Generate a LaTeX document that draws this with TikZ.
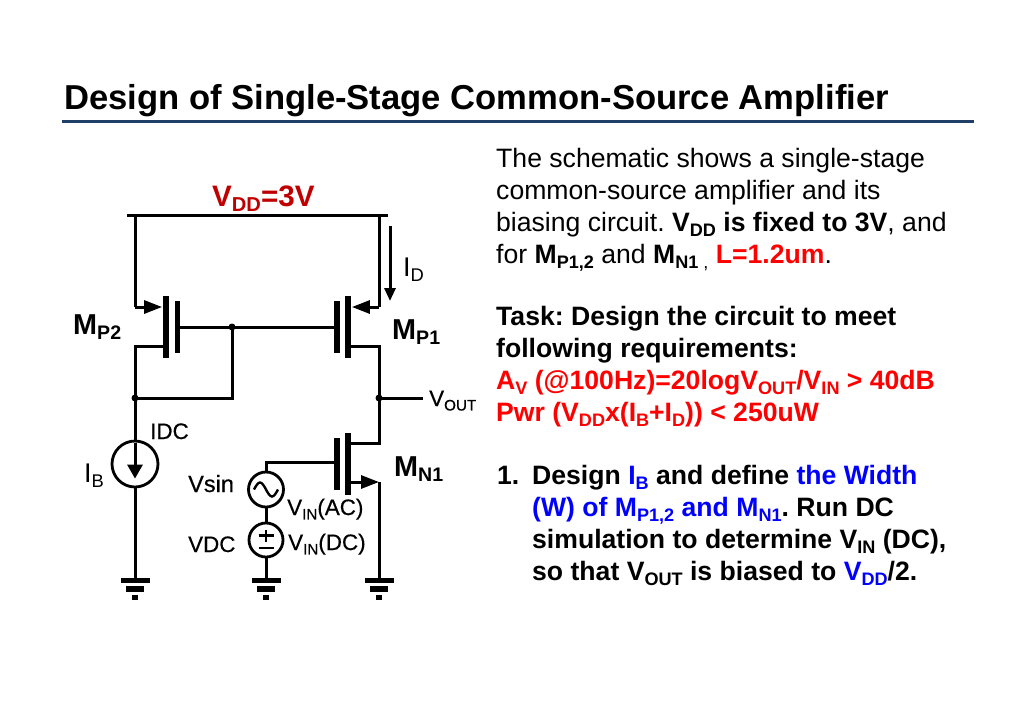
\documentclass[tikz,border=0pt]{standalone}
\usepackage{fontspec}
\setmainfont{Liberation Sans}
\newfontfamily\medfont[FakeBold=0.5]{Liberation Sans}
\usetikzlibrary{arrows.meta}
\definecolor{rulebl}{HTML}{1F3F66}
\definecolor{vddred}{HTML}{C00000}
\newcommand{\lowtxt}[1]{\raisebox{-.2em}{\scalebox{.68}{#1}}}
\newcommand{\fs}[1]{\fontsize{#1}{#1}\selectfont}
\frenchspacing
\begin{document}
\begin{tikzpicture}[
        x=1pt, y=-1pt,
        wire/.style={draw, line width=3pt},
        rail/.style={draw, line width=3.6pt},
        chanbar/.style={fill=black, inner sep=0pt, minimum width=5.4pt, minimum height=62pt},
        gatebar/.style={fill=black, inner sep=0pt, minimum width=5.4pt, minimum height=52pt},
        junc/.style={circle, fill=black, inner sep=0pt, minimum size=7pt},
        src/.style={circle, draw, line width=2.8pt, inner sep=0pt, minimum size=#1},
        gndbar/.style={fill=black, inner sep=0pt},
        bigtip/.style={-{Triangle[length=18pt, width=13pt]}},
        lbl/.style={anchor=base west, inner sep=0pt},
        body/.style={lbl, font=\fs{26.6}},
        boldbody/.style={lbl, font=\fs{26.6}\bfseries},
        note/.style={lbl, font=\fs{22.4}\medfont},
        devname/.style={lbl, font=\fs{28.8}\bfseries},
    ]
    \useasboundingbox[fill=white] (0,0) rectangle (1024,704);
    % title
    \node[lbl, font=\fs{34.6}\bfseries] (title) at (64,109) {Design of Single-Stage Common-Source Amplifier};
    \coordinate (ruleL) at (62,121);
    \coordinate (ruleR) at (974,121);
    \draw[rulebl, line width=3pt] (ruleL) -- (ruleR);
    % transistors
    \node[chanbar] (mp2ch) at (166,327) {};
    \node[gatebar] (mp2g) at (177.5,327) {};
    \node[chanbar] (mp1ch) at (348,327) {};
    \node[gatebar] (mp1g) at (337,327) {};
    \node[chanbar] (mn1ch) at (348,463.5) {};
    \node[gatebar] (mn1g) at (337,464) {};
    % sources
    \node[src=46pt] (idc) at (135,464) {};
    \node[src=35pt] (vsin) at (266,489.5) {};
    \node[src=34pt] (vdc) at (266,540) {};
    % wiring points
    \coordinate (railL) at (127,215.5);
    \coordinate (railR) at (388,215.5);
    \coordinate (vdd2) at (135,215.5);
    \coordinate (vdd1) at (379,215.5);
    \coordinate (s2) at (135,307);
    \coordinate (d2) at (135,346);
    \coordinate (s1) at (379,307);
    \coordinate (d1) at (379,346);
    \coordinate (dn) at (379,443);
    \coordinate (sn) at (379,482);
    \coordinate (gn) at (266,462);
    \node[junc] (jgate) at (232,327) {};
    \node[junc] (jbias) at (135,398) {};
    \node[junc] (jout) at (379,398) {};
    \coordinate (outend) at (423,398);
    \coordinate (idtop) at (390,226);
    \coordinate (idbot) at (390,301);
    % ground bars
    \foreach \gx/\gname in {135/gbias, 266/gvdc, 379/gmn}{
        \coordinate (\gname) at (\gx,579);
        \fill[gndbar] (\gx-14.5,578) rectangle (\gx+14.5,583);
        \fill[gndbar] (\gx-9,586) rectangle (\gx+9,592);
        \fill[gndbar] (\gx-3,595) rectangle (\gx+3,600);
    }
    % wires
    \draw[rail] (railL) -- (railR);
    \draw[wire] (vdd2) -- (s2);
    \draw[wire, bigtip] (s2) -- ([xshift=-1pt]mp2ch.west |- s2);
    \draw[wire] (mp2ch.west |- d2) -- (d2) -- (jbias.center);
    \draw[wire] (mp2g.east) -- (mp1g.west);
    \draw[wire] (jgate.center) |- (jbias.center);
    \draw[wire] (vdd1) -- (s1);
    \draw[wire, bigtip] (s1) -- ([xshift=1pt]mp1ch.east |- s1);
    \draw[wire] (mp1ch.east |- d1) -- (d1) -- (jout.center) -- (dn) -- (mn1ch.east |- dn);
    \draw[wire] (jout.center) -- (outend);
    \draw[wire, bigtip] (mn1ch.east |- sn) -- (sn);
    \draw[wire] (sn) -- (gmn);
    \draw[wire] (mn1g.west |- gn) -- (gn) -- (vsin.north);
    \draw[wire] (vsin.south) -- (vdc.north);
    \draw[wire] (vdc.south) -- (gvdc);
    \draw[wire] (jbias.center) -- (idc.north);
    \draw[wire] (idc.south) -- (gbias);
    \draw[wire, -{Triangle[length=14pt, width=15pt]}] (idc.north) ++(0,3) -- ++(0,36);
    \draw[wire, -{Triangle[length=13pt, width=11pt]}] (idtop) -- (idbot);
    % source symbols
    \draw[line width=2.4pt] (vsin.center) ++(-12,0) sin ++(6,-7) cos ++(6,7) sin ++(6,7) cos ++(6,-7);
    \draw[line width=2.8pt] (vdc.center) ++(-7.5,-4.5) -- ++(15,0) ++(-7.5,-6) -- ++(0,12) ++(-7.5,6.5) -- ++(15,0);
    % circuit labels
    \node[lbl, font=\fs{29.6}\bfseries, text=vddred] (lvdd) at (212,206) {V\lowtxt{DD}=3V};
    \node[devname] (lmp2) at (73,334) {M\lowtxt{P2}};
    \node[devname] (lmp1) at (392,339) {M\lowtxt{P1}};
    \node[devname] (lmn1) at (394,476) {M\lowtxt{N1}};
    \node[lbl, font=\fs{27}] (lid) at (403,276) {I\lowtxt{D}};
    \node[lbl, font=\fs{27}] (lib) at (84,482) {I\lowtxt{B}};
    \node[note] (lvout) at (429,406) {V\lowtxt{OUT}};
    \node[note] (lidc) at (150,439) {IDC};
    \node[lbl, font=\fs{23.5}\medfont] (lvsin) at (188,492) {Vsin};
    \node[note] (lvdc) at (188,552) {VDC};
    \node[note] (lvac) at (287,515) {V\lowtxt{IN}(AC)};
    \node[note] (lvdcin) at (288,550) {V\lowtxt{IN}(DC)};
    % text block
    \node[body] (t1) at (496,167.5) {The schematic shows a single-stage};
    \node[body] (t2) at (496,199.5) {common-source amplifier and its};
    \node[body] (t3) at (496,231.5) {biasing circuit. \textbf{V\lowtxt{DD} is fixed to 3V}, and};
    \node[body] (t4) at (496,263.5) {for \textbf{M\lowtxt{P1,2}} and \textbf{M\lowtxt{N1}}\lowtxt{ ,} \textcolor{red}{\textbf{L=1.2um}}.};
    \node[boldbody] (t5) at (496,325.5) {Task: Design the circuit to meet};
    \node[boldbody] (t6) at (496,357.5) {following requirements:};
    \node[boldbody, text=red] (t7) at (496,389.5) {A\lowtxt{V} (@100Hz)=20logV\lowtxt{OUT}/V\lowtxt{IN} > 40dB};
    \node[boldbody, text=red] (t8) at (496,421.5) {Pwr (V\lowtxt{DD}x(I\lowtxt{B}+I\lowtxt{D})) < 250uW};
    \node[boldbody] (t9) at (497,484.5) {1.};
    \node[boldbody] (t10) at (532,484.5) {Design \textcolor{blue}{I\lowtxt{B}} and define \textcolor{blue}{the Width}};
    \node[boldbody] (t11) at (532,516.5) {\textcolor{blue}{(W) of M\lowtxt{P1,2} and M\lowtxt{N1}}. Run DC};
    \node[boldbody] (t12) at (532,548.5) {simulation to determine V\lowtxt{IN} (DC),};
    \node[boldbody] (t13) at (532,580.5) {so that V\lowtxt{OUT} is biased to \textcolor{blue}{V\lowtxt{DD}}/2.};
\end{tikzpicture}
\end{document}
